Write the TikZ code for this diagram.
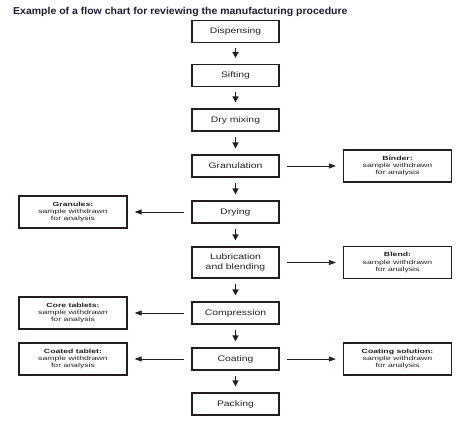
\documentclass[tikz,border=0pt]{standalone}
\usepackage{fontspec}
\usetikzlibrary{arrows.meta}
\setmainfont{Liberation Sans}
\newfontfamily\titlefont[FakeStretch=1.05]{Liberation Sans}
\newfontfamily\stepfont[FakeStretch=1.3]{Liberation Sans}
\newfontfamily\notefont[FakeStretch=1.45]{Liberation Sans}
\definecolor{chartink}{RGB}{35,31,32}
\definecolor{titleink}{RGB}{28,28,52}

\begin{document}
\begin{tikzpicture}[x=1pt,y=-1pt,
  stepbox/.style={draw=chartink, line width=1.2pt, minimum width=87pt, minimum height=22pt, inner sep=0pt, align=center, text=chartink, font=\stepfont\fontsize{8}{10}\selectfont},
  samplebox/.style={draw=chartink, line width=1.2pt, minimum width=108pt, minimum height=32pt, inner sep=0pt, align=center, text=chartink, font=\notefont\fontsize{6}{7.2}\selectfont},
  flowarrow/.style={draw=chartink, line width=1.4pt, -{Triangle[width=6pt,length=6pt]}, shorten <=5pt, shorten >=6pt},
  samplearrow/.style={draw=chartink, line width=0.8pt, -{Triangle[width=5pt,length=7pt]}, shorten <=7pt, shorten >=7pt}]
\useasboundingbox (0,0) rectangle (476,432);
% Title
\node[anchor=base west, inner sep=0pt, text=titleink, font=\titlefont\bfseries\fontsize{10}{12}\selectfont] (title) at (13,14) {Example of a flow chart for reviewing the manufacturing procedure};
% Manufacturing steps
\node[stepbox] (disp) at (235.5,31.5) {Dispensing};
\node[stepbox] (sift) at (235.5,75.5) {Sifting};
\node[stepbox] (mix) at (235.5,120) {Dry mixing};
\node[stepbox] (gran) at (235.5,166) {Granulation};
\node[stepbox] (dry) at (235.5,212) {Drying};
\node[stepbox, minimum height=31pt] (lub) at (235.5,262.5) {Lubrication\\and blending};
\node[stepbox] (comp) at (235.5,313) {Compression};
\node[stepbox] (coat) at (235.5,359) {Coating};
\node[stepbox] (pack) at (235.5,404) {Packing};
% Sampling points
\node[samplebox] (binder) at (397.5,166) {\textbf{Binder:}\\sample withdrawn\\for analysis};
\node[samplebox] (granules) at (73,212) {\textbf{Granules:}\\sample withdrawn\\for analysis};
\node[samplebox] (blend) at (397.5,262.5) {\textbf{Blend:}\\sample withdrawn\\for analysis};
\node[samplebox] (core) at (73,313) {\textbf{Core tablets:}\\sample withdrawn\\for analysis};
\node[samplebox] (coated) at (73,359) {\textbf{Coated tablet:}\\sample withdrawn\\for analysis};
\node[samplebox] (coatsol) at (397.5,359) {\textbf{Coating solution:}\\sample withdrawn\\for analysis};
% Flow
\draw[flowarrow] (disp) -- (sift);
\draw[flowarrow] (sift) -- (mix);
\draw[flowarrow] (mix) -- (gran);
\draw[flowarrow] (gran) -- (dry);
\draw[flowarrow] (dry) -- (lub);
\draw[flowarrow] (lub) -- (comp);
\draw[flowarrow] (comp) -- (coat);
\draw[flowarrow] (coat) -- (pack);
\draw[samplearrow] (gran) -- (binder);
\draw[samplearrow] (dry) -- (granules);
\draw[samplearrow] (lub) -- (blend);
\draw[samplearrow] (comp) -- (core);
\draw[samplearrow] (coat) -- (coated);
\draw[samplearrow] (coat) -- (coatsol);
\end{tikzpicture}
\end{document}
